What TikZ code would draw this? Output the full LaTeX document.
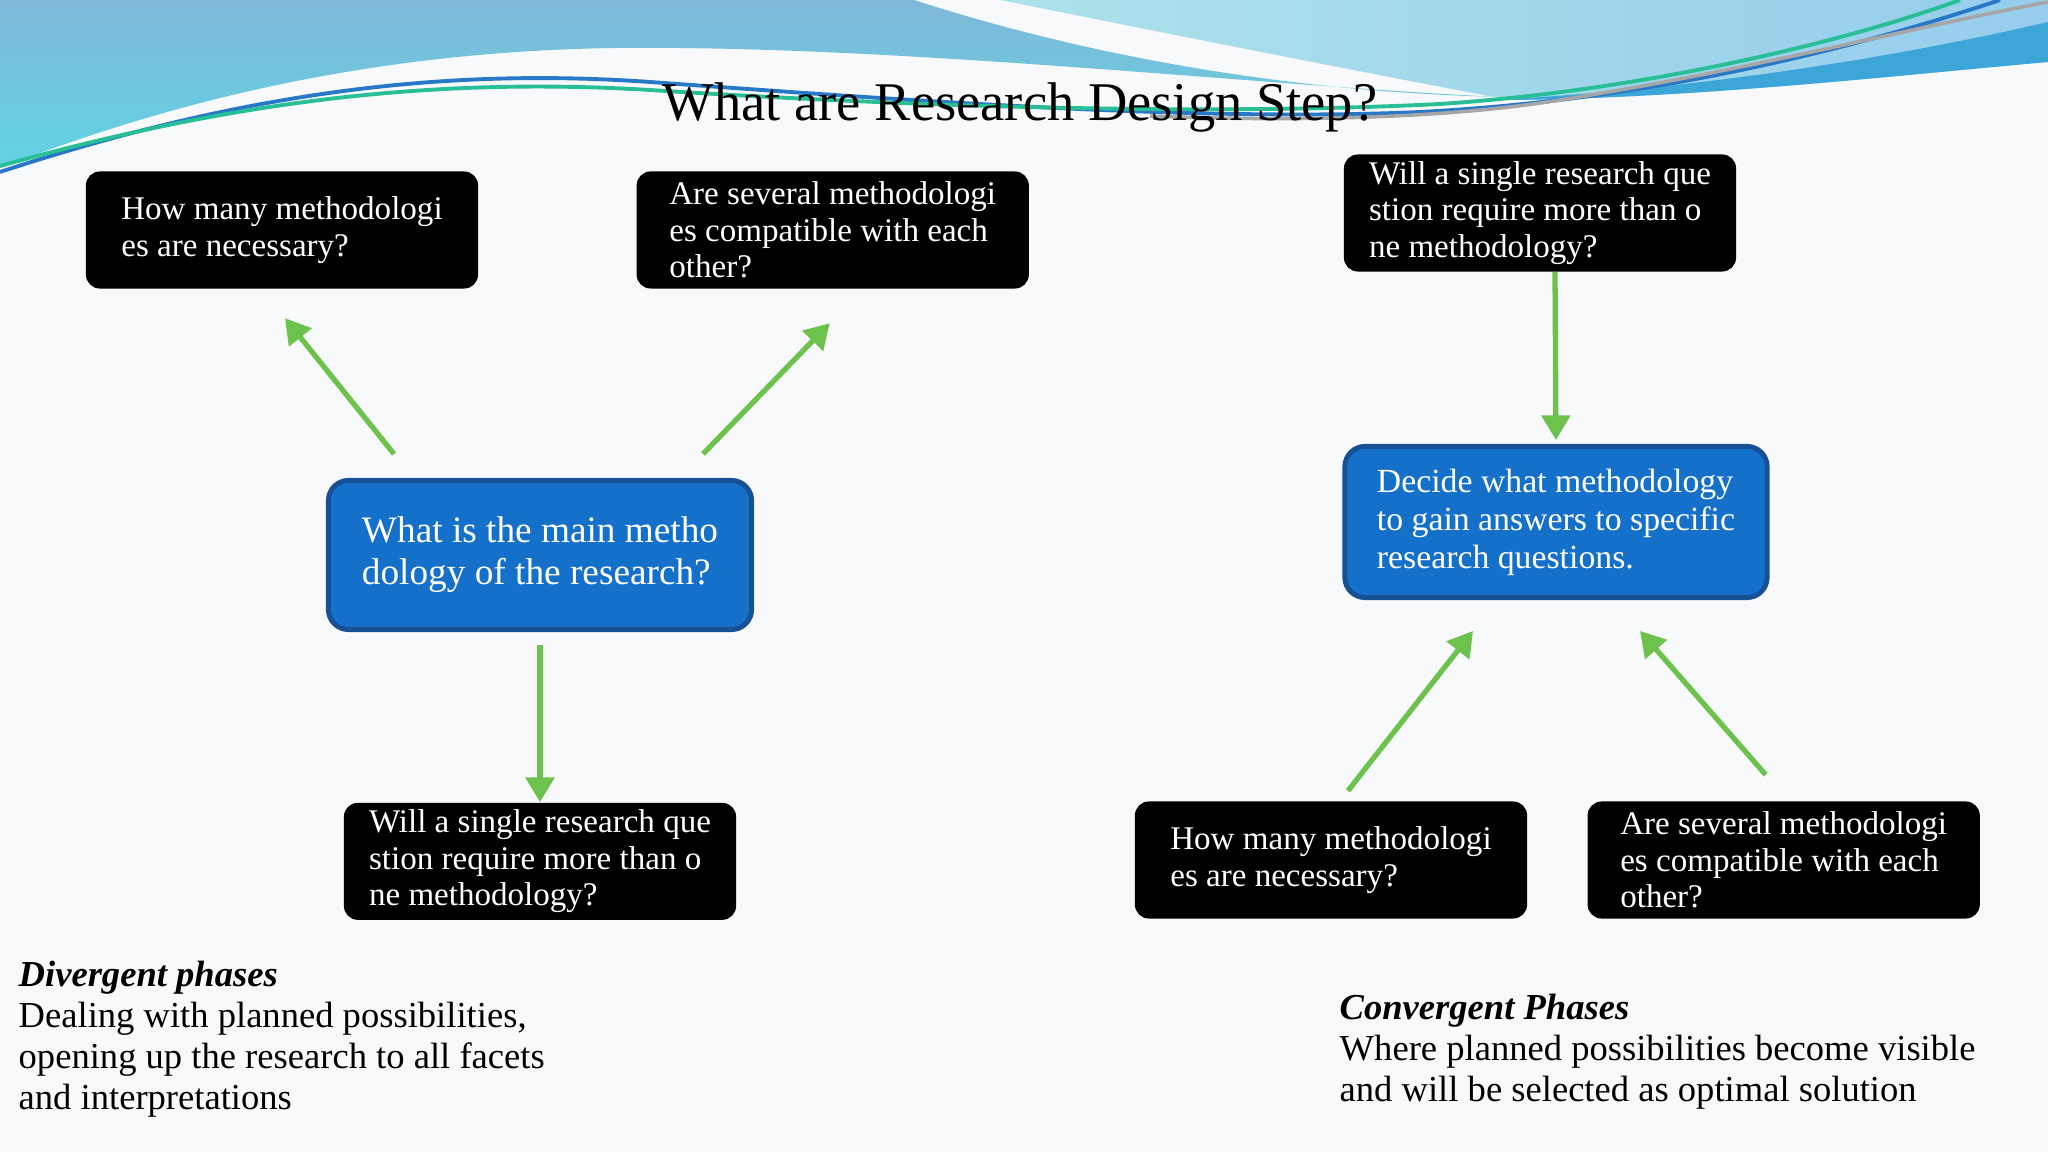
\documentclass[tikz,border=0pt]{standalone}
\usepackage{fontspec}
\setmainfont{Liberation Serif}
\usetikzlibrary{arrows.meta, positioning, calc}
\definecolor{boxblue}{RGB}{21,112,201}
\definecolor{boxblueline}{RGB}{24,80,150}
\definecolor{arrowgreen}{RGB}{108,194,76}
\definecolor{pagebg}{RGB}{248,249,251}
\definecolor{waveblue}{RGB}{128,184,216}
\definecolor{wavecyan}{RGB}{96,212,228}
\definecolor{wavelight}{RGB}{172,226,234}
\definecolor{wavesky}{RGB}{150,205,236}
\definecolor{wavestrip}{RGB}{60,166,216}
\definecolor{lineblue}{RGB}{40,120,200}
\definecolor{linegreen}{RGB}{40,190,150}
\tikzset{
  darkblock/.style={rectangle, fill=black, text=white, minimum width=3.92cm,
    align=left, minimum height=1.17cm, inner ysep=1.5pt,
    font=\fontsize{9.4}{10.4}\selectfont, rounded corners=1.4mm},
  blueblock/.style={rectangle, draw=boxblueline, fill=boxblue, text=white,
    align=left, rounded corners=2mm, line width=1.4pt},
  arrow/.style={-{Triangle[length=7pt,width=8pt]}, line width=1.5pt, color=arrowgreen},
  phasetext/.style={anchor=west, align=left, inner sep=0pt,
    font=\fontsize{10.4}{11.7}\selectfont}
}

\begin{document}
\begin{tikzpicture}[x=0.01cm, y=-0.01cm]
  % page and top waves
  \useasboundingbox (0,0) rectangle (2048,1152);
  \fill[pagebg] (0,0) rectangle (2048,1152);
  \shade[top color=waveblue, bottom color=wavecyan]
    (0,0) -- (914,0) .. controls (1100,60) and (1300,92) .. (1500,97)
    .. controls (1250,85) and (900,45) .. (614,48)
    .. controls (350,52) and (150,110) .. (0,168) -- cycle;
  \shade[left color=wavelight, right color=wavesky]
    (1000,0) -- (2048,0) -- (2048,62) .. controls (1900,75) and (1700,98) .. (1510,100)
    .. controls (1350,70) and (1150,30) .. (1000,0) -- cycle;
  \fill[wavestrip]
    (1510,99) .. controls (1750,85) and (1950,45) .. (2048,22) -- (2048,62)
    .. controls (1900,75) and (1700,98) .. (1510,100) -- cycle;
  \draw[lineblue, line width=1.1pt] (0,172) .. controls (250,90) and (450,68) .. (650,82)
    .. controls (900,100) and (1200,122) .. (1420,112) .. controls (1650,100) and (1850,50) .. (2000,0);
  \draw[linegreen, line width=1.1pt] (0,166) .. controls (250,96) and (450,78) .. (650,90)
    .. controls (900,106) and (1200,116) .. (1440,104) .. controls (1650,90) and (1850,40) .. (1960,0);
  \draw[gray!70, line width=1pt] (1150,116) .. controls (1300,122) and (1450,118) .. (1560,100)
    .. controls (1750,70) and (1900,30) .. (2048,2);

  \node[font=\fontsize{15.5}{18}\selectfont] (title) at (1020,107) {What are Research Design Step?};

  % divergent side
  \node[darkblock] (howmany) at (282,230) {How many methodologi\\es are necessary?};
  \node[darkblock, right=1.57cm of howmany] (compat) {Are several methodologi\\es compatible with each\\other?};
  \node[blueblock, minimum width=4.23cm, minimum height=1.49cm,
    font=\fontsize{10.6}{11.9}\selectfont] (mainq) at (540,555)
    {What is the main metho\\dology of the research?};
  \node[darkblock, below=1.7cm of mainq] (single) {Will a single research que\\stion require more than o\\ne methodology?};
  \draw[arrow] ($(mainq.north)+(-146,-24)$) -- ($(howmany.south)+(3,29)$);
  \draw[arrow] ($(mainq.north)+(163,-24)$) -- ($(compat.south)+(-3,34)$);
  \draw[arrow] ($(mainq.south)+(0,13)$) -- (single.north);

  % convergent side
  \node[darkblock] (singletop) at (1540,213) {Will a single research que\\stion require more than o\\ne methodology?};
  \node[blueblock, minimum width=4.22cm, minimum height=1.51cm,
    font=\fontsize{9.6}{10.8}\selectfont] (decide) at (1556,522)
    {Decide what methodology\\to gain answers to specific\\research questions.};
  \node[darkblock] (howmany2) at (1331,860) {How many methodologi\\es are necessary?};
  \node[darkblock, right=0.59cm of howmany2] (compat2) {Are several methodologi\\es compatible with each\\other?};
  \draw[arrow] ($(singletop.south)+(15,0)$) -- ($(decide.north)+(0,-4)$);
  \draw[arrow] ($(howmany2.north)+(17,-10)$) -- ($(decide.south)+(-83,31)$);
  \draw[arrow] ($(compat2.north)+(-18,-26)$) -- ($(decide.south)+(84,31)$);

  % phase notes
  \node[phasetext] (divnote) at (18,1039) {\textbf{\textit{Divergent phases}}\\Dealing with planned possibilities,\\opening up the research to all facets\\and interpretations};
  \node[phasetext] (convnote) at (1339,1052) {\textbf{\textit{Convergent Phases}}\\Where planned possibilities become visible\\and will be selected as optimal solution};
\end{tikzpicture}
\end{document}
